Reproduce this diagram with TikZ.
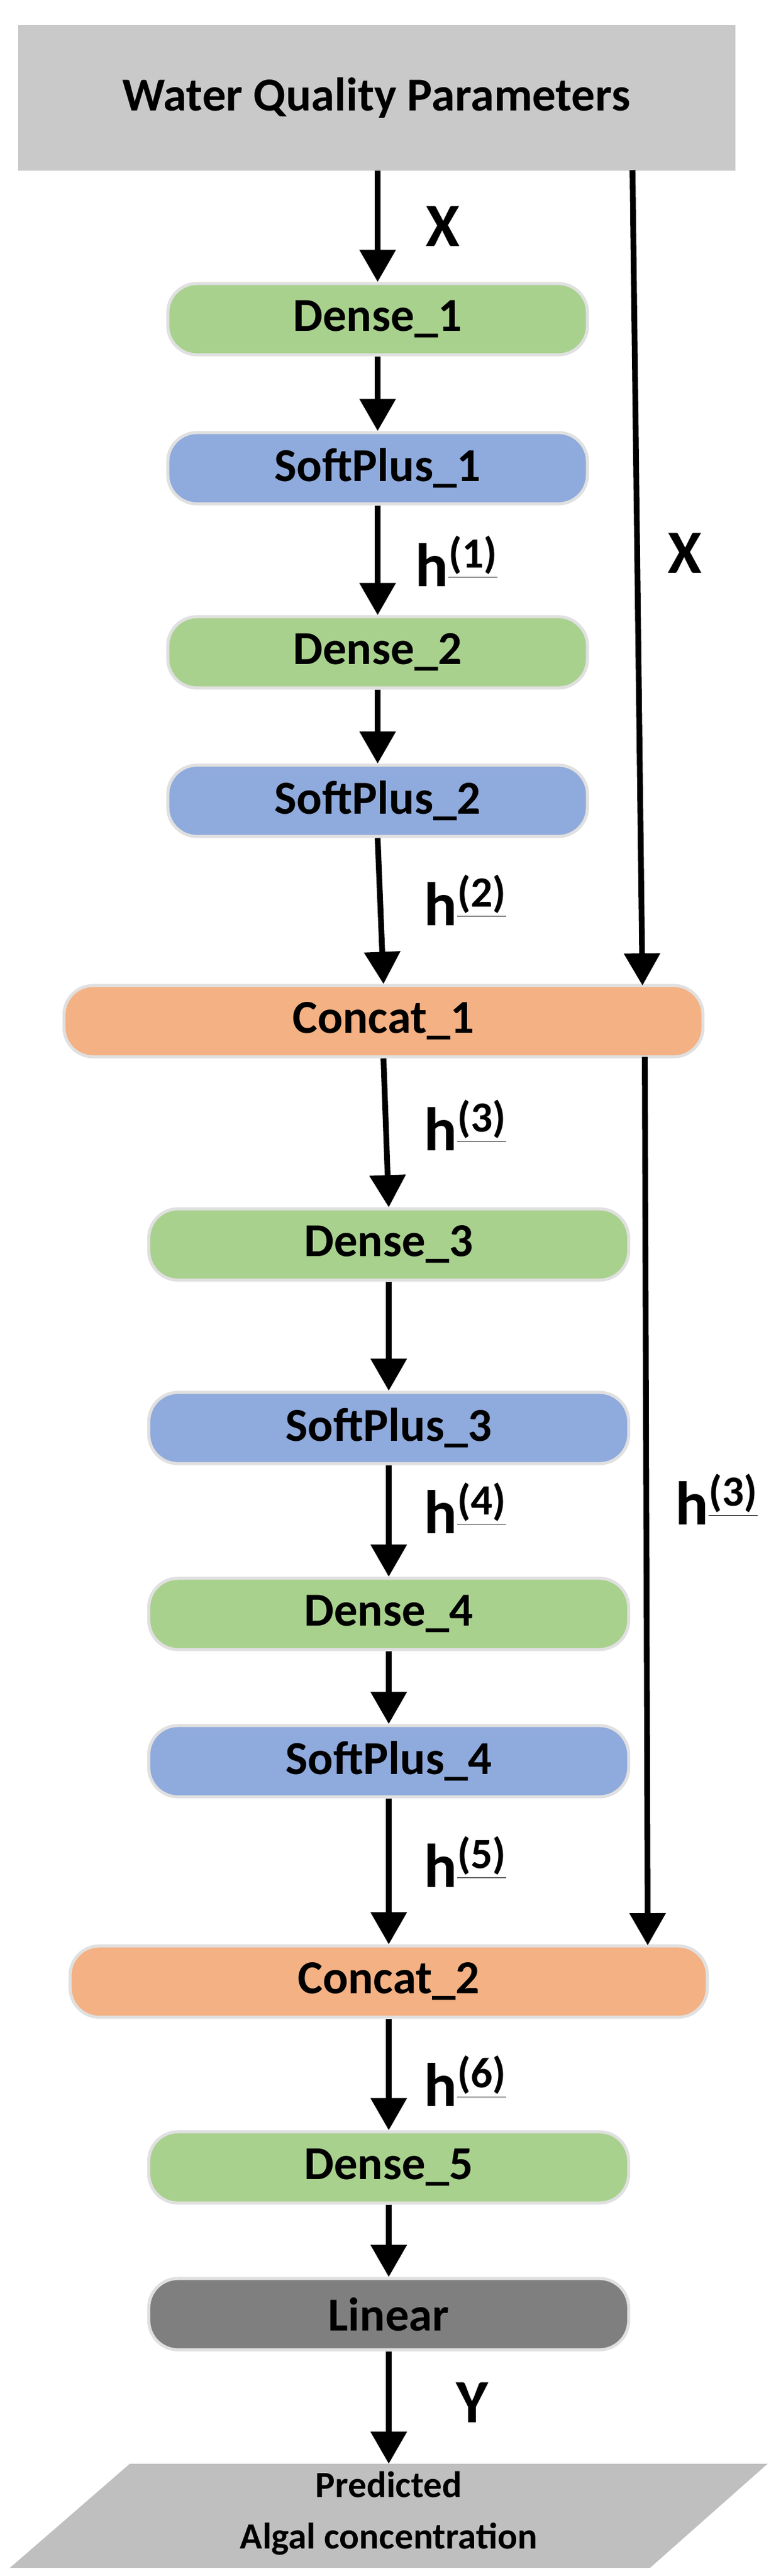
\documentclass[tikz,border=0pt]{standalone}
\usepackage{fontspec}
\setmainfont{Carlito}
\usetikzlibrary{arrows.meta}
\definecolor{dgreen}{HTML}{A9D18E}
\definecolor{dblue}{HTML}{8FAADC}
\definecolor{dorange}{HTML}{F4B183}
\definecolor{dlin}{HTML}{7F7F7F}
\definecolor{dgrey}{HTML}{C9C9C9}
\definecolor{dout}{HTML}{BFBFBF}
\tikzset{
    layer/.style={rectangle,rounded corners=0.5cm,draw=black!12,line width=1.5pt,minimum height=1.22cm,font=\bfseries\fontsize{23}{27}\selectfont},
    arr/.style={line width=2.8pt,-{Triangle[width=0.6cm,length=0.55cm]}},
    lbl/.style={font=\bfseries\fontsize{30}{34}\selectfont,anchor=west,inner sep=0pt}
}
\newcommand{\hsup}[1]{h\textsuperscript{\underline{(#1)}}}
\begin{document}
\begin{tikzpicture}
        \useasboundingbox (0,0) rectangle (13.35,-44.07);
        \node[fill=dgrey,minimum width=12.27cm,minimum height=2.49cm,font=\bfseries\fontsize{23}{27}\selectfont] (wq) at (6.44,-1.67) {Water Quality Parameters};

        \begin{scope}
            \tikzstyle{every node}=[layer,minimum width=7.18cm]
            \node[fill=dgreen] (d1) at (6.46,-5.46) {Dense\_1};
            \node[fill=dblue] (s1) at (6.46,-8.01) {SoftPlus\_1};
            \node[fill=dgreen] (d2) at (6.46,-11.16) {Dense\_2};
            \node[fill=dblue] (s2) at (6.46,-13.70) {SoftPlus\_2};
        \end{scope}
        \node[layer,fill=dorange,minimum width=10.93cm] (c1) at (6.56,-17.47) {Concat\_1};
        \begin{scope}
            \tikzstyle{every node}=[layer,minimum width=8.21cm]
            \node[fill=dgreen] (d3) at (6.65,-21.29) {Dense\_3};
            \node[fill=dblue] (s3) at (6.65,-24.43) {SoftPlus\_3};
            \node[fill=dgreen] (d4) at (6.65,-27.61) {Dense\_4};
            \node[fill=dblue] (s4) at (6.65,-30.13) {SoftPlus\_4};
        \end{scope}
        \node[layer,fill=dorange,minimum width=10.90cm] (c2) at (6.65,-33.90) {Concat\_2};
        \node[layer,fill=dgreen,minimum width=8.21cm] (d5) at (6.65,-37.08) {Dense\_5};
        \node[layer,fill=dlin,minimum width=8.21cm] (lin) at (6.65,-39.59) {Linear};

        % output parallelogram
        \fill[dout] (0.17,-43.93) -- (2.22,-42.15) -- (13.13,-42.15) -- (11.12,-43.93) -- cycle;
        \node[align=center,font=\bfseries\fontsize{18}{25}\selectfont] (out) at (6.65,-43.00) {Predicted\\Algal concentration};
        \coordinate (outtop) at (6.65,-42.15);

        % main path
        \draw[arr] (wq.south -| d1) -- (d1.north);
        \foreach \a/\b in {d1/s1,s1/d2,d2/s2,s2/c1,c1/d3,d3/s3,s3/d4,d4/s4,s4/c2,c2/d5,d5/lin} {
            \draw[arr] (\a.south) -- (\b.north);
        }
        \draw[arr] (lin.south) -- (outtop);

        % skip connections
        \coordinate (xs) at (10.82,-2.91);
        \coordinate (xe) at (10.99,-16.86);
        \coordinate (hs) at (11.03,-18.08);
        \coordinate (he) at (11.08,-33.28);
        \draw[arr] (xs) -- (xe);
        \draw[arr] (hs) -- (he);

        \node[lbl] (lx1) at (7.28,-3.87) {X};
        \node[lbl] (lh1) at (7.10,-9.60) {\hsup{1}};
        \node[lbl] (lh2) at (7.25,-15.40) {\hsup{2}};
        \node[lbl] (lh3) at (7.25,-19.25) {\hsup{3}};
        \node[lbl] (lh4) at (7.25,-25.80) {\hsup{4}};
        \node[lbl] (lh5) at (7.25,-31.85) {\hsup{5}};
        \node[lbl] (lh6) at (7.25,-35.60) {\hsup{6}};
        \node[lbl] (ly) at (7.80,-41.10) {Y};
        \node[lbl] (lx2) at (11.42,-9.46) {X};
        \node[lbl] (lh7) at (11.55,-25.65) {\hsup{3}};
\end{tikzpicture}
\end{document}
